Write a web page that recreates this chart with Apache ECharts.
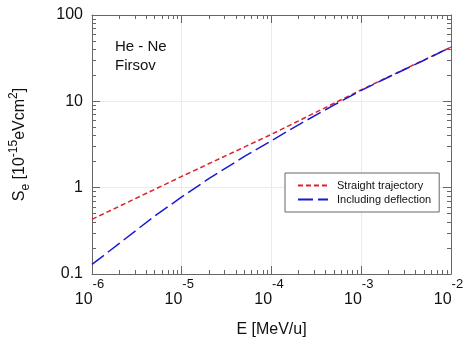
<!DOCTYPE html>
<html>
<head>
<meta charset="utf-8">
<script src="https://cdn.jsdelivr.net/npm/echarts@6/dist/echarts.min.js"></script>
<style>
  html, body { margin: 0; padding: 0; background: #ffffff; }
  #chart { width: 474px; height: 349px; }
</style>
</head>
<body>
<div id="chart"></div>
<script>
// Electronic stopping, He in Ne, Firsov model
const straightEnergy = [1e-6, 1e-5, 1e-4, 1e-3, 1e-2];
const straightSe = [0.43, 1.35, 4.15, 13.6, 42.5];

const deflectionEnergy = [1e-6, 2e-6, 5e-6, 1e-5, 2e-5, 5e-5, 1e-4, 2e-4, 5e-4, 1e-3, 2e-3, 5e-3, 1e-2];
const deflectionSe = [0.129, 0.225, 0.47, 0.78, 1.27, 2.30, 3.5, 5.35, 9.1, 13.4, 19.0, 29.9, 42.5];

const seriesNames = ['Straight trajectory', 'Including deflection'];

// Axis decades and their labels
const xDecades = [1e-6, 1e-5, 1e-4, 1e-3, 1e-2];
const xExponents = ['-6', '-5', '-4', '-3', '-2'];
const yDecades = [0.1, 1, 10, 100];
const yTickLabels = ['0.1', '1', '10', '100'];
const minorSteps = [2, 3, 4, 5, 6, 7, 8, 9];

function minorTicks(decades) {
  const out = [];
  for (let i = 0; i < decades.length - 1; i++) {
    minorSteps.forEach(m => out.push(decades[i] * m));
  }
  return out;
}

const FONT = '"Liberation Sans", Arial, Helvetica, sans-serif';
const FRAME = '#666666';
const xMinor = minorTicks(xDecades);
const yMinor = minorTicks(yDecades);

function idxOf(list, v) {
  let best = 0;
  list.forEach((d, i) => { if (Math.abs(Math.log10(d) - Math.log10(v)) < Math.abs(Math.log10(list[best]) - Math.log10(v))) best = i; });
  return best;
}

function frameAxis(dim, position, ticks, length, extra) {
  const base = {
    type: 'log',
    logBase: 10,
    position: position,
    min: dim === 'x' ? 1e-6 : 0.1,
    max: dim === 'x' ? 1e-2 : 100,
    axisLine: { show: false, onZero: false },
    axisTick: { show: true, inside: true, length: length, customValues: ticks, lineStyle: { color: FRAME, width: 1 } },
    axisLabel: { show: false },
    splitLine: { show: false },
    minorTick: { show: false },
    minorSplitLine: { show: false }
  };
  return Object.assign(base, extra || {});
}

const xAxes = [
  frameAxis('x', 'bottom', xDecades, 8, {
    axisLine: { show: true, onZero: false, lineStyle: { color: FRAME, width: 1 } },
    splitLine: { show: true, lineStyle: { color: '#ebebeb', width: 1 } },
    axisLabel: {
      show: true,
      customValues: xDecades,
      margin: 4,
      formatter: v => '{b|10}{s|' + xExponents[idxOf(xDecades, v)] + '}',
      rich: {
        b: { fontFamily: FONT, fontSize: 16, color: '#111', lineHeight: 30, verticalAlign: 'bottom' },
        s: { fontFamily: FONT, fontSize: 13, color: '#111', lineHeight: 13, verticalAlign: 'top', padding: [0, 5, 0, 0] }
      }
    },
    name: 'E [MeV/u]',
    nameLocation: 'middle',
    nameGap: 48,
    nameTextStyle: { fontFamily: FONT, fontSize: 16, color: '#111' }
  }),
  frameAxis('x', 'bottom', xMinor, 4),
  frameAxis('x', 'top', xDecades, 8, {
    axisLine: { show: true, onZero: false, lineStyle: { color: FRAME, width: 1 } }
  }),
  frameAxis('x', 'top', xMinor, 4)
];

const yAxes = [
  frameAxis('y', 'left', yDecades, 8, {
    axisLine: { show: true, onZero: false, lineStyle: { color: FRAME, width: 1 } },
    splitLine: { show: true, lineStyle: { color: '#ebebeb', width: 1 } },
    axisLabel: {
      show: true,
      customValues: yDecades,
      margin: 9,
      fontFamily: FONT,
      fontSize: 16,
      color: '#111',
      formatter: v => yTickLabels[idxOf(yDecades, v)]
    },
    name: '{b|S}{sub|e}{b| [10}{sup|-15}{b|eVcm}{sup|2}{b|]}',
    nameLocation: 'middle',
    nameRotate: 90,
    nameGap: 60,
    nameTextStyle: {
      rich: {
        b: { fontFamily: FONT, fontSize: 16, color: '#111', lineHeight: 24, verticalAlign: 'middle' },
        sub: { fontFamily: FONT, fontSize: 12, color: '#111', lineHeight: 12, verticalAlign: 'bottom' },
        sup: { fontFamily: FONT, fontSize: 12, color: '#111', lineHeight: 12, verticalAlign: 'top' }
      }
    }
  }),
  frameAxis('y', 'left', yMinor, 4),
  frameAxis('y', 'right', yDecades, 8, {
    axisLine: { show: true, onZero: false, lineStyle: { color: FRAME, width: 1 } }
  }),
  frameAxis('y', 'right', yMinor, 4)
];

const chart = echarts.init(document.getElementById('chart'), null, { renderer: 'canvas' });

chart.setOption({
  animation: false,
  backgroundColor: '#ffffff',
  grid: { left: 89, right: 23, top: 15, bottom: 75, containLabel: false },
  xAxis: xAxes,
  yAxis: yAxes,
  legend: {
    data: seriesNames,
    orient: 'vertical',
    left: 285,
    top: 173,
    itemWidth: 30,
    itemHeight: 10,
    itemGap: 3,
    padding: [7, 8, 7, 12],
    borderColor: FRAME,
    borderWidth: 1,
    backgroundColor: '#ffffff',
    itemStyle: { opacity: 0 },
    textStyle: { fontFamily: FONT, fontSize: 11, color: '#111', padding: [0, 0, 0, 4] }
  },
  graphic: [
    { type: 'text', left: 115, top: 39, style: { text: 'He - Ne', font: '15px ' + FONT, fill: '#111' } },
    { type: 'text', left: 115, top: 58, style: { text: 'Firsov', font: '15px ' + FONT, fill: '#111' } }
  ],
  series: [
    {
      name: seriesNames[0],
      type: 'line',
      xAxisIndex: 0,
      yAxisIndex: 0,
      symbol: 'none',
      z: 2,
      data: straightEnergy.map((e, i) => [e, straightSe[i]]),
      lineStyle: { color: '#e0202a', width: 1.5, type: [5, 3] },
      itemStyle: { color: '#e0202a' }
    },
    {
      name: seriesNames[1],
      type: 'line',
      xAxisIndex: 0,
      yAxisIndex: 0,
      symbol: 'none',
      z: 3,
      data: deflectionEnergy.map((e, i) => [e, deflectionSe[i]]),
      lineStyle: { color: '#1a1ad0', width: 1.5, type: [15, 5] },
      itemStyle: { color: '#1a1ad0' }
    }
  ]
});
</script>
</body>
</html>
